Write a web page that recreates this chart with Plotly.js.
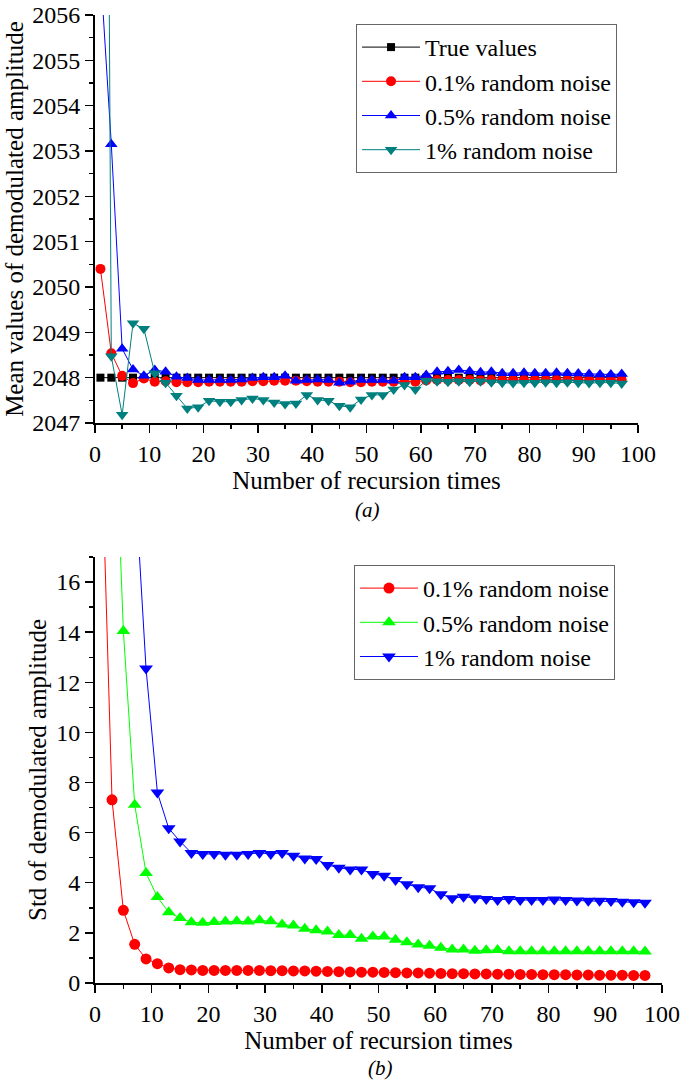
<!DOCTYPE html>
<html>
<head>
<meta charset="utf-8">
<script src="https://cdn.plot.ly/plotly-3.0.1.min.js"></script>
<style>
  html, body { margin: 0; padding: 0; background: #fff; }
  #plot { width: 686px; height: 1081px; }
</style>
</head>
<body>
<div id="plot"></div>
<script>
// recursion index, same for every series
const recursion = [1, 3, 5, 7, 9, 11, 13, 15, 17, 19, 21, 23, 25, 27, 29, 31, 33, 35, 37, 39,
  41, 43, 45, 47, 49, 51, 53, 55, 57, 59, 61, 63, 65, 67, 69, 71, 73, 75, 77, 79,
  81, 83, 85, 87, 89, 91, 93, 95, 97];

// (a) mean values of demodulated amplitude
const meanTrue = [2048, 2048, 2048, 2048, 2048, 2048, 2048, 2048, 2048, 2048, 2048, 2048, 2048, 2048, 2048, 2048, 2048, 2048, 2048, 2048,
  2048, 2048, 2048, 2048, 2048, 2048, 2048, 2048, 2048, 2048, 2048, 2048, 2048, 2048, 2048, 2048, 2048, 2048, 2048, 2048,
  2048, 2048, 2048, 2048, 2048, 2048, 2048, 2048, 2048];
const mean01 = [2050.40, 2048.54, 2048.04, 2047.88, 2047.98, 2047.91, 2047.92, 2047.90, 2047.90, 2047.90,
  2047.91, 2047.91, 2047.91, 2047.91, 2047.92, 2047.92, 2047.93, 2047.93, 2047.93, 2047.92,
  2047.91, 2047.91, 2047.91, 2047.90, 2047.90, 2047.91, 2047.91, 2047.91, 2047.92, 2047.91,
  2047.94, 2047.95, 2047.95, 2047.95, 2047.95, 2047.94, 2047.95, 2047.95, 2047.95, 2047.95,
  2047.95, 2047.95, 2047.95, 2047.95, 2047.95, 2047.95, 2047.95, 2047.95, 2047.95];
const mean05 = [2057.0, 2053.15, 2048.64, 2048.18, 2048.04, 2048.17, 2048.13, 2048.02, 2047.99, 2047.95,
  2047.95, 2047.95, 2047.95, 2047.96, 2047.99, 2048.01, 2048.01, 2048.04, 2047.93, 2047.95,
  2047.96, 2047.95, 2047.89, 2047.91, 2047.95, 2047.95, 2047.95, 2047.93, 2048.01, 2048.01,
  2048.06, 2048.13, 2048.14, 2048.17, 2048.14, 2048.12, 2048.13, 2048.10, 2048.10, 2048.11,
  2048.10, 2048.10, 2048.11, 2048.10, 2048.09, 2048.08, 2048.07, 2048.07, 2048.08];
const mean1 = [2090, 2048.47, 2047.18, 2049.20, 2049.08, 2048.10, 2047.89, 2047.60, 2047.32, 2047.35,
  2047.49, 2047.47, 2047.47, 2047.51, 2047.54, 2047.51, 2047.45, 2047.42, 2047.43, 2047.62,
  2047.51, 2047.49, 2047.38, 2047.35, 2047.52, 2047.62, 2047.62, 2047.74, 2047.84, 2047.74,
  2047.93, 2047.92, 2047.91, 2047.92, 2047.91, 2047.92, 2047.90, 2047.89, 2047.88, 2047.89,
  2047.89, 2047.90, 2047.89, 2047.90, 2047.89, 2047.88, 2047.89, 2047.89, 2047.87];

// (b) std of demodulated amplitude
const std01 = [22.7, 7.31, 2.90, 1.54, 0.96, 0.77, 0.60, 0.53, 0.52, 0.50,
  0.50, 0.50, 0.50, 0.50, 0.50, 0.49, 0.49, 0.48, 0.48, 0.47,
  0.46, 0.45, 0.44, 0.43, 0.43, 0.42, 0.41, 0.40, 0.40, 0.39,
  0.38, 0.37, 0.37, 0.36, 0.36, 0.35, 0.35, 0.34, 0.34, 0.33,
  0.33, 0.33, 0.32, 0.32, 0.31, 0.31, 0.31, 0.30, 0.30];
const std05 = [60, 26, 14.05, 7.11, 4.39, 3.43, 2.82, 2.59, 2.42, 2.40,
  2.43, 2.45, 2.46, 2.45, 2.50, 2.46, 2.33, 2.29, 2.16, 2.10,
  2.05, 1.91, 1.91, 1.76, 1.85, 1.85, 1.72, 1.62, 1.53, 1.48,
  1.41, 1.34, 1.34, 1.29, 1.31, 1.32, 1.27, 1.27, 1.27, 1.27,
  1.27, 1.27, 1.27, 1.27, 1.27, 1.27, 1.27, 1.27, 1.26];
const std1 = [80, 45, 28, 20.2, 12.55, 7.60, 6.17, 5.65, 5.19, 5.15,
  5.15, 5.12, 5.12, 5.15, 5.19, 5.15, 5.19, 5.08, 4.97, 4.95,
  4.71, 4.60, 4.53, 4.53, 4.35, 4.28, 4.11, 3.94, 3.82, 3.78,
  3.54, 3.38, 3.44, 3.38, 3.35, 3.31, 3.35, 3.31, 3.31, 3.31,
  3.33, 3.31, 3.29, 3.28, 3.28, 3.27, 3.24, 3.22, 3.20];

const FONT = 'Liberation Serif';

function series(y, name, color, symbol, size, xa, ya, legend) {
  return {
    type: 'scatter', mode: 'lines+markers', x: recursion, y: y, name: name,
    xaxis: xa, yaxis: ya, legend: legend,
    line: { color: color, width: 1 },
    marker: { color: color, symbol: symbol, size: size }
  };
}

const data = [
  series(meanTrue, 'True values', '#000000', 'square', 8, 'x', 'y', 'legend'),
  series(mean01, '0.1% random noise', '#ff0000', 'circle', 10, 'x', 'y', 'legend'),
  series(mean05, '0.5% random noise', '#0000ff', 'triangle-up', 11, 'x', 'y', 'legend'),
  series(mean1, '1% random noise', '#007f7f', 'triangle-down', 11, 'x', 'y', 'legend'),
  series(std01, '0.1% random noise', '#ff0000', 'circle', 11, 'x2', 'y2', 'legend2'),
  series(std05, '0.5% random noise', '#00ff00', 'triangle-up', 12, 'x2', 'y2', 'legend2'),
  series(std1, '1% random noise', '#0000ff', 'triangle-down', 12, 'x2', 'y2', 'legend2')
];

function axis(extra) {
  return Object.assign({
    showgrid: false, zeroline: false, showline: true, linecolor: '#000', linewidth: 2,
    ticks: 'outside', ticklen: 8, tickwidth: 1.5, tickcolor: '#000',
    tickfont: { family: FONT, size: 24, color: '#000' },
    automargin: false
  }, extra);
}

const legendStyle = {
  bgcolor: '#fff', bordercolor: '#666', borderwidth: 1,
  font: { family: FONT, size: 24, color: '#000' },
  itemwidth: 58,
  xanchor: 'left', yanchor: 'top'
};

const layout = {
  width: 686, height: 1081,
  margin: { l: 0, r: 0, t: 0, b: 0 },
  paper_bgcolor: '#fff', plot_bgcolor: '#fff',
  font: { family: FONT, color: '#000' },
  showlegend: true,
  xaxis: axis({
    domain: [0.1385, 0.930], range: [0, 100], dtick: 10, anchor: 'y',
    minor: { ticks: 'outside', ticklen: 4, dtick: 5, tickcolor: '#000' },
    title: { text: 'Number of recursion times', font: { family: FONT, size: 25 }, standoff: 3 }
  }),
  yaxis: axis({
    domain: [0.6087, 0.9861], range: [2047, 2056], dtick: 1, anchor: 'x',
    minor: { ticks: 'outside', ticklen: 4, dtick: 0.5, tickcolor: '#000' },
    title: { text: 'Mean values of demodulated amplitude', font: { family: FONT, size: 25 }, standoff: 1 }
  }),
  xaxis2: axis({
    domain: [0.1385, 0.965], range: [0, 100], dtick: 10, anchor: 'y2',
    minor: { ticks: 'outside', ticklen: 4, dtick: 5, tickcolor: '#000' },
    title: { text: 'Number of recursion times', font: { family: FONT, size: 25 }, standoff: 4 }
  }),
  yaxis2: axis({
    domain: [0.0907, 0.4847], range: [0, 17], dtick: 2, anchor: 'x2',
    minor: { ticks: 'outside', ticklen: 4, dtick: 1, tickcolor: '#000' },
    title: { text: 'Std of demodulated amplitude', font: { family: FONT, size: 25 }, standoff: 2 }
  }),
  legend: Object.assign({ x: 0.519, y: 1 - 24 / 1081 }, legendStyle),
  legend2: Object.assign({ x: 0.516, y: 1 - 565 / 1081 }, legendStyle),
  annotations: [
    { text: '<i>(a)</i>', xref: 'paper', yref: 'paper', x: 0.535, y: 1 - 510 / 1081,
      xanchor: 'center', yanchor: 'middle', showarrow: false, font: { family: FONT, size: 21 } },
    { text: '<i>(b)</i>', xref: 'paper', yref: 'paper', x: 0.555, y: 1 - 1068 / 1081,
      xanchor: 'center', yanchor: 'middle', showarrow: false, font: { family: FONT, size: 21 } }
  ]
};

Plotly.newPlot('plot', data, layout, { displayModeBar: false, staticPlot: true });
</script>
</body>
</html>
